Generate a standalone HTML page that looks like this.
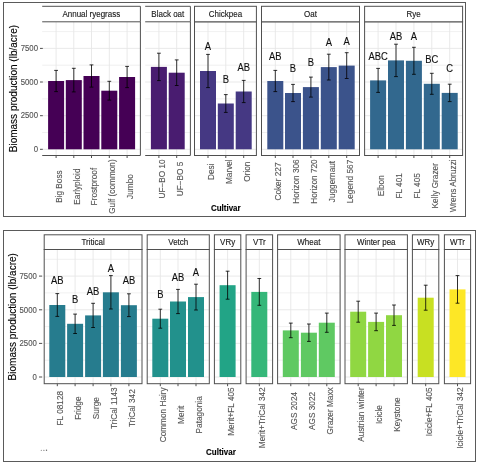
<!DOCTYPE html>
<html><head><meta charset="utf-8"><style>
html,body{margin:0;padding:0;background:#fff;}
svg{display:block;font-family:"Liberation Sans", sans-serif;}
text{stroke-width:0.12px;}
</style></head><body>
<svg width="480" height="468" viewBox="0 0 480 468">
<defs><filter id="bl" x="0" y="0" width="480" height="468" filterUnits="userSpaceOnUse"><feGaussianBlur stdDeviation="0.4"/></filter></defs>
<rect width="480" height="468" fill="#fff"/>
<g filter="url(#bl)">
<rect x="3.5" y="2.5" width="462.00" height="214.00" fill="none" stroke="#5a5a5a" stroke-width="1"/>
<line x1="42.2" x2="140.4" y1="132.5" y2="132.5" stroke="#e6e6e6" stroke-width="0.6"/>
<line x1="42.2" x2="140.4" y1="98.9" y2="98.9" stroke="#e6e6e6" stroke-width="0.6"/>
<line x1="42.2" x2="140.4" y1="65.2" y2="65.2" stroke="#e6e6e6" stroke-width="0.6"/>
<line x1="42.2" x2="140.4" y1="31.6" y2="31.6" stroke="#e6e6e6" stroke-width="0.6"/>
<line x1="42.2" x2="140.4" y1="149.3" y2="149.3" stroke="#e6e6e6" stroke-width="0.9"/>
<line x1="42.2" x2="140.4" y1="115.7" y2="115.7" stroke="#e6e6e6" stroke-width="0.9"/>
<line x1="42.2" x2="140.4" y1="82.0" y2="82.0" stroke="#e6e6e6" stroke-width="0.9"/>
<line x1="42.2" x2="140.4" y1="48.4" y2="48.4" stroke="#e6e6e6" stroke-width="0.9"/>
<line x1="56.1" x2="56.1" y1="21.8" y2="155.5" stroke="#e6e6e6" stroke-width="0.9"/>
<line x1="73.8" x2="73.8" y1="21.8" y2="155.5" stroke="#e6e6e6" stroke-width="0.9"/>
<line x1="91.5" x2="91.5" y1="21.8" y2="155.5" stroke="#e6e6e6" stroke-width="0.9"/>
<line x1="109.3" x2="109.3" y1="21.8" y2="155.5" stroke="#e6e6e6" stroke-width="0.9"/>
<line x1="127.1" x2="127.1" y1="21.8" y2="155.5" stroke="#e6e6e6" stroke-width="0.9"/>
<rect x="48.10" y="81.0" width="16.0" height="68.30" fill="#440154"/>
<rect x="65.80" y="80.1" width="16.0" height="69.20" fill="#440154"/>
<rect x="83.50" y="76.0" width="16.0" height="73.30" fill="#440154"/>
<rect x="101.30" y="90.7" width="16.0" height="58.60" fill="#440154"/>
<rect x="119.10" y="77.0" width="16.0" height="72.30" fill="#440154"/>
<path d="M54.20 70.4H58.00M56.1 70.4V91.6M54.20 91.6H58.00" stroke="#000" stroke-width="0.8" fill="none"/>
<path d="M71.90 68.3H75.70M73.8 68.3V91.9M71.90 91.9H75.70" stroke="#000" stroke-width="0.8" fill="none"/>
<path d="M89.60 64.9H93.40M91.5 64.9V87.1M89.60 87.1H93.40" stroke="#000" stroke-width="0.8" fill="none"/>
<path d="M107.40 81.3H111.20M109.3 81.3V100.1M107.40 100.1H111.20" stroke="#000" stroke-width="0.8" fill="none"/>
<path d="M125.20 66.4H129.00M127.1 66.4V87.6M125.20 87.6H129.00" stroke="#000" stroke-width="0.8" fill="none"/>
<path d="M42.2 155.5H140.4V21.8" fill="none" stroke="#505050" stroke-width="1.0"/>
<path d="M42.2 6.3H140.4V21.8H42.2" fill="#fff" stroke="#505050" stroke-width="1.0"/>
<text transform="translate(91.30,16.90) scale(1,1.15)" font-size="8" text-anchor="middle" fill="#1a1a1a" stroke="#1a1a1a" >Annual ryegrass</text>
<line x1="56.1" x2="56.1" y1="155.5" y2="158.0" stroke="#505050" stroke-width="1.0"/>
<text transform="translate(62.00,186.58) rotate(-90)" x="0" y="0" font-size="8.25" text-anchor="middle" fill="#555" stroke="#555">Big Boss</text>
<line x1="73.8" x2="73.8" y1="155.5" y2="158.0" stroke="#505050" stroke-width="1.0"/>
<text transform="translate(79.70,186.58) rotate(-90)" x="0" y="0" font-size="8.25" text-anchor="middle" fill="#555" stroke="#555">Earlyploid</text>
<line x1="91.5" x2="91.5" y1="155.5" y2="158.0" stroke="#505050" stroke-width="1.0"/>
<text transform="translate(97.40,186.58) rotate(-90)" x="0" y="0" font-size="8.25" text-anchor="middle" fill="#555" stroke="#555">Frostproof</text>
<line x1="109.3" x2="109.3" y1="155.5" y2="158.0" stroke="#505050" stroke-width="1.0"/>
<text transform="translate(115.20,186.58) rotate(-90)" x="0" y="0" font-size="8.25" text-anchor="middle" fill="#555" stroke="#555">Gulf (common)</text>
<line x1="127.1" x2="127.1" y1="155.5" y2="158.0" stroke="#505050" stroke-width="1.0"/>
<text transform="translate(133.00,186.58) rotate(-90)" x="0" y="0" font-size="8.25" text-anchor="middle" fill="#555" stroke="#555">Jumbo</text>
<line x1="145.2" x2="190.4" y1="132.5" y2="132.5" stroke="#e6e6e6" stroke-width="0.6"/>
<line x1="145.2" x2="190.4" y1="98.9" y2="98.9" stroke="#e6e6e6" stroke-width="0.6"/>
<line x1="145.2" x2="190.4" y1="65.2" y2="65.2" stroke="#e6e6e6" stroke-width="0.6"/>
<line x1="145.2" x2="190.4" y1="31.6" y2="31.6" stroke="#e6e6e6" stroke-width="0.6"/>
<line x1="145.2" x2="190.4" y1="149.3" y2="149.3" stroke="#e6e6e6" stroke-width="0.9"/>
<line x1="145.2" x2="190.4" y1="115.7" y2="115.7" stroke="#e6e6e6" stroke-width="0.9"/>
<line x1="145.2" x2="190.4" y1="82.0" y2="82.0" stroke="#e6e6e6" stroke-width="0.9"/>
<line x1="145.2" x2="190.4" y1="48.4" y2="48.4" stroke="#e6e6e6" stroke-width="0.9"/>
<line x1="158.9" x2="158.9" y1="21.8" y2="155.5" stroke="#e6e6e6" stroke-width="0.9"/>
<line x1="176.7" x2="176.7" y1="21.8" y2="155.5" stroke="#e6e6e6" stroke-width="0.9"/>
<rect x="150.90" y="66.9" width="16.0" height="82.40" fill="#481f70"/>
<rect x="168.70" y="72.7" width="16.0" height="76.60" fill="#481f70"/>
<path d="M157.00 53.2H160.80M158.9 53.2V80.6M157.00 80.6H160.80" stroke="#000" stroke-width="0.8" fill="none"/>
<path d="M174.80 59.9H178.60M176.7 59.9V85.5M174.80 85.5H178.60" stroke="#000" stroke-width="0.8" fill="none"/>
<path d="M145.2 155.5H190.4V21.8" fill="none" stroke="#505050" stroke-width="1.0"/>
<path d="M145.2 6.3H190.4V21.8H145.2" fill="#fff" stroke="#505050" stroke-width="1.0"/>
<text transform="translate(167.80,16.90) scale(1,1.15)" font-size="8" text-anchor="middle" fill="#1a1a1a" stroke="#1a1a1a" >Black oat</text>
<line x1="158.9" x2="158.9" y1="155.5" y2="158.0" stroke="#505050" stroke-width="1.0"/>
<text transform="translate(164.80,178.90) rotate(-90)" x="0" y="0" font-size="8.25" text-anchor="middle" fill="#555" stroke="#555">UF−BO 10</text>
<line x1="176.7" x2="176.7" y1="155.5" y2="158.0" stroke="#505050" stroke-width="1.0"/>
<text transform="translate(182.60,178.90) rotate(-90)" x="0" y="0" font-size="8.25" text-anchor="middle" fill="#555" stroke="#555">UF−BO 5</text>
<line x1="194.5" x2="256.4" y1="132.5" y2="132.5" stroke="#e6e6e6" stroke-width="0.6"/>
<line x1="194.5" x2="256.4" y1="98.9" y2="98.9" stroke="#e6e6e6" stroke-width="0.6"/>
<line x1="194.5" x2="256.4" y1="65.2" y2="65.2" stroke="#e6e6e6" stroke-width="0.6"/>
<line x1="194.5" x2="256.4" y1="31.6" y2="31.6" stroke="#e6e6e6" stroke-width="0.6"/>
<line x1="194.5" x2="256.4" y1="149.3" y2="149.3" stroke="#e6e6e6" stroke-width="0.9"/>
<line x1="194.5" x2="256.4" y1="115.7" y2="115.7" stroke="#e6e6e6" stroke-width="0.9"/>
<line x1="194.5" x2="256.4" y1="82.0" y2="82.0" stroke="#e6e6e6" stroke-width="0.9"/>
<line x1="194.5" x2="256.4" y1="48.4" y2="48.4" stroke="#e6e6e6" stroke-width="0.9"/>
<line x1="208.0" x2="208.0" y1="21.8" y2="155.5" stroke="#e6e6e6" stroke-width="0.9"/>
<line x1="225.8" x2="225.8" y1="21.8" y2="155.5" stroke="#e6e6e6" stroke-width="0.9"/>
<line x1="243.7" x2="243.7" y1="21.8" y2="155.5" stroke="#e6e6e6" stroke-width="0.9"/>
<rect x="200.00" y="71.0" width="16.0" height="78.30" fill="#443983"/>
<rect x="217.80" y="103.5" width="16.0" height="45.80" fill="#443983"/>
<rect x="235.70" y="91.5" width="16.0" height="57.80" fill="#443983"/>
<path d="M206.10 54.4H209.90M208.0 54.4V87.6M206.10 87.6H209.90" stroke="#000" stroke-width="0.8" fill="none"/>
<text transform="translate(208.00,50.20) scale(1,1.15)" font-size="9.4" text-anchor="middle" fill="#111" stroke="#111" >A</text>
<path d="M223.90 94.6H227.70M225.8 94.6V112.4M223.90 112.4H227.70" stroke="#000" stroke-width="0.8" fill="none"/>
<text transform="translate(225.80,82.70) scale(1,1.15)" font-size="9.4" text-anchor="middle" fill="#111" stroke="#111" >B</text>
<path d="M241.80 80.4H245.60M243.7 80.4V102.6M241.80 102.6H245.60" stroke="#000" stroke-width="0.8" fill="none"/>
<text transform="translate(243.70,70.70) scale(1,1.15)" font-size="9.4" text-anchor="middle" fill="#111" stroke="#111" >AB</text>
<rect x="194.5" y="21.8" width="61.90" height="133.70" fill="none" stroke="#505050" stroke-width="1.0"/>
<rect x="194.5" y="6.3" width="61.90" height="15.50" fill="#fff" stroke="#505050" stroke-width="1.0"/>
<text transform="translate(225.45,16.90) scale(1,1.15)" font-size="8" text-anchor="middle" fill="#1a1a1a" stroke="#1a1a1a" >Chickpea</text>
<line x1="208.0" x2="208.0" y1="155.5" y2="158.0" stroke="#505050" stroke-width="1.0"/>
<text transform="translate(213.90,171.68) rotate(-90)" x="0" y="0" font-size="8.25" text-anchor="middle" fill="#555" stroke="#555">Desi</text>
<line x1="225.8" x2="225.8" y1="155.5" y2="158.0" stroke="#505050" stroke-width="1.0"/>
<text transform="translate(231.70,171.68) rotate(-90)" x="0" y="0" font-size="8.25" text-anchor="middle" fill="#555" stroke="#555">Marvel</text>
<line x1="243.7" x2="243.7" y1="155.5" y2="158.0" stroke="#505050" stroke-width="1.0"/>
<text transform="translate(249.60,171.68) rotate(-90)" x="0" y="0" font-size="8.25" text-anchor="middle" fill="#555" stroke="#555">Orion</text>
<line x1="261.5" x2="359.5" y1="132.5" y2="132.5" stroke="#e6e6e6" stroke-width="0.6"/>
<line x1="261.5" x2="359.5" y1="98.9" y2="98.9" stroke="#e6e6e6" stroke-width="0.6"/>
<line x1="261.5" x2="359.5" y1="65.2" y2="65.2" stroke="#e6e6e6" stroke-width="0.6"/>
<line x1="261.5" x2="359.5" y1="31.6" y2="31.6" stroke="#e6e6e6" stroke-width="0.6"/>
<line x1="261.5" x2="359.5" y1="149.3" y2="149.3" stroke="#e6e6e6" stroke-width="0.9"/>
<line x1="261.5" x2="359.5" y1="115.7" y2="115.7" stroke="#e6e6e6" stroke-width="0.9"/>
<line x1="261.5" x2="359.5" y1="82.0" y2="82.0" stroke="#e6e6e6" stroke-width="0.9"/>
<line x1="261.5" x2="359.5" y1="48.4" y2="48.4" stroke="#e6e6e6" stroke-width="0.9"/>
<line x1="275.3" x2="275.3" y1="21.8" y2="155.5" stroke="#e6e6e6" stroke-width="0.9"/>
<line x1="293.0" x2="293.0" y1="21.8" y2="155.5" stroke="#e6e6e6" stroke-width="0.9"/>
<line x1="310.9" x2="310.9" y1="21.8" y2="155.5" stroke="#e6e6e6" stroke-width="0.9"/>
<line x1="328.8" x2="328.8" y1="21.8" y2="155.5" stroke="#e6e6e6" stroke-width="0.9"/>
<line x1="346.7" x2="346.7" y1="21.8" y2="155.5" stroke="#e6e6e6" stroke-width="0.9"/>
<rect x="267.30" y="81.0" width="16.0" height="68.30" fill="#3b528b"/>
<rect x="285.00" y="93.0" width="16.0" height="56.30" fill="#3b528b"/>
<rect x="302.90" y="87.1" width="16.0" height="62.20" fill="#3b528b"/>
<rect x="320.80" y="67.1" width="16.0" height="82.20" fill="#3b528b"/>
<rect x="338.70" y="65.6" width="16.0" height="83.70" fill="#3b528b"/>
<path d="M273.40 70.4H277.20M275.3 70.4V91.6M273.40 91.6H277.20" stroke="#000" stroke-width="0.8" fill="none"/>
<text transform="translate(275.30,60.20) scale(1,1.15)" font-size="9.4" text-anchor="middle" fill="#111" stroke="#111" >AB</text>
<path d="M291.10 84.4H294.90M293.0 84.4V101.6M291.10 101.6H294.90" stroke="#000" stroke-width="0.8" fill="none"/>
<text transform="translate(293.00,72.20) scale(1,1.15)" font-size="9.4" text-anchor="middle" fill="#111" stroke="#111" >B</text>
<path d="M309.00 77.1H312.80M310.9 77.1V97.1M309.00 97.1H312.80" stroke="#000" stroke-width="0.8" fill="none"/>
<text transform="translate(310.90,66.30) scale(1,1.15)" font-size="9.4" text-anchor="middle" fill="#111" stroke="#111" >B</text>
<path d="M326.90 54.2H330.70M328.8 54.2V80.0M326.90 80.0H330.70" stroke="#000" stroke-width="0.8" fill="none"/>
<text transform="translate(328.80,46.30) scale(1,1.15)" font-size="9.4" text-anchor="middle" fill="#111" stroke="#111" >A</text>
<path d="M344.80 52.7H348.60M346.7 52.7V78.5M344.80 78.5H348.60" stroke="#000" stroke-width="0.8" fill="none"/>
<text transform="translate(346.70,44.80) scale(1,1.15)" font-size="9.4" text-anchor="middle" fill="#111" stroke="#111" >A</text>
<rect x="261.5" y="21.8" width="98.00" height="133.70" fill="none" stroke="#505050" stroke-width="1.0"/>
<rect x="261.5" y="6.3" width="98.00" height="15.50" fill="#fff" stroke="#505050" stroke-width="1.0"/>
<text transform="translate(310.50,16.90) scale(1,1.15)" font-size="8" text-anchor="middle" fill="#1a1a1a" stroke="#1a1a1a" >Oat</text>
<line x1="275.3" x2="275.3" y1="155.5" y2="158.0" stroke="#505050" stroke-width="1.0"/>
<text transform="translate(281.20,181.54) rotate(-90)" x="0" y="0" font-size="8.25" text-anchor="middle" fill="#555" stroke="#555">Coker 227</text>
<line x1="293.0" x2="293.0" y1="155.5" y2="158.0" stroke="#505050" stroke-width="1.0"/>
<text transform="translate(298.90,181.54) rotate(-90)" x="0" y="0" font-size="8.25" text-anchor="middle" fill="#555" stroke="#555">Horizon 306</text>
<line x1="310.9" x2="310.9" y1="155.5" y2="158.0" stroke="#505050" stroke-width="1.0"/>
<text transform="translate(316.80,181.54) rotate(-90)" x="0" y="0" font-size="8.25" text-anchor="middle" fill="#555" stroke="#555">Horizon 720</text>
<line x1="328.8" x2="328.8" y1="155.5" y2="158.0" stroke="#505050" stroke-width="1.0"/>
<text transform="translate(334.70,181.54) rotate(-90)" x="0" y="0" font-size="8.25" text-anchor="middle" fill="#555" stroke="#555">Juggernaut</text>
<line x1="346.7" x2="346.7" y1="155.5" y2="158.0" stroke="#505050" stroke-width="1.0"/>
<text transform="translate(352.60,181.54) rotate(-90)" x="0" y="0" font-size="8.25" text-anchor="middle" fill="#555" stroke="#555">Legend 567</text>
<line x1="364.6" x2="462.6" y1="132.5" y2="132.5" stroke="#e6e6e6" stroke-width="0.6"/>
<line x1="364.6" x2="462.6" y1="98.9" y2="98.9" stroke="#e6e6e6" stroke-width="0.6"/>
<line x1="364.6" x2="462.6" y1="65.2" y2="65.2" stroke="#e6e6e6" stroke-width="0.6"/>
<line x1="364.6" x2="462.6" y1="31.6" y2="31.6" stroke="#e6e6e6" stroke-width="0.6"/>
<line x1="364.6" x2="462.6" y1="149.3" y2="149.3" stroke="#e6e6e6" stroke-width="0.9"/>
<line x1="364.6" x2="462.6" y1="115.7" y2="115.7" stroke="#e6e6e6" stroke-width="0.9"/>
<line x1="364.6" x2="462.6" y1="82.0" y2="82.0" stroke="#e6e6e6" stroke-width="0.9"/>
<line x1="364.6" x2="462.6" y1="48.4" y2="48.4" stroke="#e6e6e6" stroke-width="0.9"/>
<line x1="378.1" x2="378.1" y1="21.8" y2="155.5" stroke="#e6e6e6" stroke-width="0.9"/>
<line x1="396.0" x2="396.0" y1="21.8" y2="155.5" stroke="#e6e6e6" stroke-width="0.9"/>
<line x1="413.9" x2="413.9" y1="21.8" y2="155.5" stroke="#e6e6e6" stroke-width="0.9"/>
<line x1="431.8" x2="431.8" y1="21.8" y2="155.5" stroke="#e6e6e6" stroke-width="0.9"/>
<line x1="449.7" x2="449.7" y1="21.8" y2="155.5" stroke="#e6e6e6" stroke-width="0.9"/>
<rect x="370.10" y="80.4" width="16.0" height="68.90" fill="#31688e"/>
<rect x="388.00" y="60.4" width="16.0" height="88.90" fill="#31688e"/>
<rect x="405.90" y="60.8" width="16.0" height="88.50" fill="#31688e"/>
<rect x="423.80" y="83.8" width="16.0" height="65.50" fill="#31688e"/>
<rect x="441.70" y="92.9" width="16.0" height="56.40" fill="#31688e"/>
<path d="M376.20 68.4H380.00M378.1 68.4V92.4M376.20 92.4H380.00" stroke="#000" stroke-width="0.8" fill="none"/>
<text transform="translate(378.10,59.60) scale(1,1.15)" font-size="9.4" text-anchor="middle" fill="#111" stroke="#111" >ABC</text>
<path d="M394.10 44.2H397.90M396.0 44.2V76.6M394.10 76.6H397.90" stroke="#000" stroke-width="0.8" fill="none"/>
<text transform="translate(396.00,39.60) scale(1,1.15)" font-size="9.4" text-anchor="middle" fill="#111" stroke="#111" >AB</text>
<path d="M412.00 47.3H415.80M413.9 47.3V74.3M412.00 74.3H415.80" stroke="#000" stroke-width="0.8" fill="none"/>
<text transform="translate(413.90,40.00) scale(1,1.15)" font-size="9.4" text-anchor="middle" fill="#111" stroke="#111" >A</text>
<path d="M429.90 73.3H433.70M431.8 73.3V94.3M429.90 94.3H433.70" stroke="#000" stroke-width="0.8" fill="none"/>
<text transform="translate(431.80,63.00) scale(1,1.15)" font-size="9.4" text-anchor="middle" fill="#111" stroke="#111" >BC</text>
<path d="M447.80 84.2H451.60M449.7 84.2V101.6M447.80 101.6H451.60" stroke="#000" stroke-width="0.8" fill="none"/>
<text transform="translate(449.70,72.10) scale(1,1.15)" font-size="9.4" text-anchor="middle" fill="#111" stroke="#111" >C</text>
<rect x="364.6" y="21.8" width="98.00" height="133.70" fill="none" stroke="#505050" stroke-width="1.0"/>
<rect x="364.6" y="6.3" width="98.00" height="15.50" fill="#fff" stroke="#505050" stroke-width="1.0"/>
<text transform="translate(413.60,16.90) scale(1,1.15)" font-size="8" text-anchor="middle" fill="#1a1a1a" stroke="#1a1a1a" >Rye</text>
<line x1="378.1" x2="378.1" y1="155.5" y2="158.0" stroke="#505050" stroke-width="1.0"/>
<text transform="translate(384.00,185.82) rotate(-90)" x="0" y="0" font-size="8.25" text-anchor="middle" fill="#555" stroke="#555">Elbon</text>
<line x1="396.0" x2="396.0" y1="155.5" y2="158.0" stroke="#505050" stroke-width="1.0"/>
<text transform="translate(401.90,185.82) rotate(-90)" x="0" y="0" font-size="8.25" text-anchor="middle" fill="#555" stroke="#555">FL 401</text>
<line x1="413.9" x2="413.9" y1="155.5" y2="158.0" stroke="#505050" stroke-width="1.0"/>
<text transform="translate(419.80,185.82) rotate(-90)" x="0" y="0" font-size="8.25" text-anchor="middle" fill="#555" stroke="#555">FL 405</text>
<line x1="431.8" x2="431.8" y1="155.5" y2="158.0" stroke="#505050" stroke-width="1.0"/>
<text transform="translate(437.70,185.82) rotate(-90)" x="0" y="0" font-size="8.25" text-anchor="middle" fill="#555" stroke="#555">Kelly Grazer</text>
<line x1="449.7" x2="449.7" y1="155.5" y2="158.0" stroke="#505050" stroke-width="1.0"/>
<text transform="translate(455.60,185.82) rotate(-90)" x="0" y="0" font-size="8.25" text-anchor="middle" fill="#555" stroke="#555">Wrens Abruzzi</text>
<line x1="40.0" x2="42.8" y1="149.3" y2="149.3" stroke="#505050" stroke-width="1.0"/>
<text transform="translate(38.00,152.00) scale(1,1.08)" font-size="7.8" text-anchor="end" fill="#555" stroke="#555" >0</text>
<line x1="40.0" x2="42.8" y1="115.7" y2="115.7" stroke="#505050" stroke-width="1.0"/>
<text transform="translate(38.00,118.40) scale(1,1.08)" font-size="7.8" text-anchor="end" fill="#555" stroke="#555" >2500</text>
<line x1="40.0" x2="42.8" y1="82.0" y2="82.0" stroke="#505050" stroke-width="1.0"/>
<text transform="translate(38.00,84.70) scale(1,1.08)" font-size="7.8" text-anchor="end" fill="#555" stroke="#555" >5000</text>
<line x1="40.0" x2="42.8" y1="48.4" y2="48.4" stroke="#505050" stroke-width="1.0"/>
<text transform="translate(38.00,51.10) scale(1,1.08)" font-size="7.8" text-anchor="end" fill="#555" stroke="#555" >7500</text>
<text transform="translate(16.50,88.6) rotate(-90)" font-size="10" text-anchor="middle" fill="#000" stroke="#000">Biomass production (lb/acre)</text>
<text transform="translate(225.80,211.00) scale(1,1.15)" font-size="8" text-anchor="middle" fill="#000" stroke="#000" font-weight="bold">Cultivar</text>
<rect x="3.5" y="230.5" width="472.00" height="231.00" fill="none" stroke="#5a5a5a" stroke-width="1"/>
<line x1="44.2" x2="142.0" y1="360.2" y2="360.2" stroke="#e6e6e6" stroke-width="0.6"/>
<line x1="44.2" x2="142.0" y1="326.6" y2="326.6" stroke="#e6e6e6" stroke-width="0.6"/>
<line x1="44.2" x2="142.0" y1="292.9" y2="292.9" stroke="#e6e6e6" stroke-width="0.6"/>
<line x1="44.2" x2="142.0" y1="259.3" y2="259.3" stroke="#e6e6e6" stroke-width="0.6"/>
<line x1="44.2" x2="142.0" y1="377.0" y2="377.0" stroke="#e6e6e6" stroke-width="0.9"/>
<line x1="44.2" x2="142.0" y1="343.4" y2="343.4" stroke="#e6e6e6" stroke-width="0.9"/>
<line x1="44.2" x2="142.0" y1="309.8" y2="309.8" stroke="#e6e6e6" stroke-width="0.9"/>
<line x1="44.2" x2="142.0" y1="276.1" y2="276.1" stroke="#e6e6e6" stroke-width="0.9"/>
<line x1="57.3" x2="57.3" y1="249.5" y2="383.7" stroke="#e6e6e6" stroke-width="0.9"/>
<line x1="75.1" x2="75.1" y1="249.5" y2="383.7" stroke="#e6e6e6" stroke-width="0.9"/>
<line x1="93.1" x2="93.1" y1="249.5" y2="383.7" stroke="#e6e6e6" stroke-width="0.9"/>
<line x1="110.9" x2="110.9" y1="249.5" y2="383.7" stroke="#e6e6e6" stroke-width="0.9"/>
<line x1="128.9" x2="128.9" y1="249.5" y2="383.7" stroke="#e6e6e6" stroke-width="0.9"/>
<rect x="49.30" y="305.0" width="16.0" height="72.00" fill="#287c8e"/>
<rect x="67.10" y="323.8" width="16.0" height="53.20" fill="#287c8e"/>
<rect x="85.10" y="315.4" width="16.0" height="61.60" fill="#287c8e"/>
<rect x="102.90" y="292.3" width="16.0" height="84.70" fill="#287c8e"/>
<rect x="120.90" y="305.2" width="16.0" height="71.80" fill="#287c8e"/>
<path d="M55.40 293.6H59.20M57.3 293.6V316.4M55.40 316.4H59.20" stroke="#000" stroke-width="0.8" fill="none"/>
<text transform="translate(57.30,284.20) scale(1,1.15)" font-size="9.4" text-anchor="middle" fill="#111" stroke="#111" >AB</text>
<path d="M73.20 314.1H77.00M75.1 314.1V333.5M73.20 333.5H77.00" stroke="#000" stroke-width="0.8" fill="none"/>
<text transform="translate(75.10,303.00) scale(1,1.15)" font-size="9.4" text-anchor="middle" fill="#111" stroke="#111" >B</text>
<path d="M91.20 303.3H95.00M93.1 303.3V327.5M91.20 327.5H95.00" stroke="#000" stroke-width="0.8" fill="none"/>
<text transform="translate(93.10,294.60) scale(1,1.15)" font-size="9.4" text-anchor="middle" fill="#111" stroke="#111" >AB</text>
<path d="M109.00 275.6H112.80M110.9 275.6V309.0M109.00 309.0H112.80" stroke="#000" stroke-width="0.8" fill="none"/>
<text transform="translate(110.90,271.50) scale(1,1.15)" font-size="9.4" text-anchor="middle" fill="#111" stroke="#111" >A</text>
<path d="M127.00 293.8H130.80M128.9 293.8V316.6M127.00 316.6H130.80" stroke="#000" stroke-width="0.8" fill="none"/>
<text transform="translate(128.90,284.40) scale(1,1.15)" font-size="9.4" text-anchor="middle" fill="#111" stroke="#111" >AB</text>
<rect x="44.2" y="249.5" width="97.80" height="134.20" fill="none" stroke="#505050" stroke-width="1.0"/>
<rect x="44.2" y="234.8" width="97.80" height="14.70" fill="#fff" stroke="#505050" stroke-width="1.0"/>
<text transform="translate(93.10,245.40) scale(1,1.15)" font-size="8" text-anchor="middle" fill="#1a1a1a" stroke="#1a1a1a" >Tritical</text>
<line x1="57.3" x2="57.3" y1="383.7" y2="386.2" stroke="#505050" stroke-width="1.0"/>
<text transform="translate(63.20,408.16) rotate(-90)" x="0" y="0" font-size="8.25" text-anchor="middle" fill="#555" stroke="#555">FL 08128</text>
<line x1="75.1" x2="75.1" y1="383.7" y2="386.2" stroke="#505050" stroke-width="1.0"/>
<text transform="translate(81.00,408.16) rotate(-90)" x="0" y="0" font-size="8.25" text-anchor="middle" fill="#555" stroke="#555">Fridge</text>
<line x1="93.1" x2="93.1" y1="383.7" y2="386.2" stroke="#505050" stroke-width="1.0"/>
<text transform="translate(99.00,408.16) rotate(-90)" x="0" y="0" font-size="8.25" text-anchor="middle" fill="#555" stroke="#555">Surge</text>
<line x1="110.9" x2="110.9" y1="383.7" y2="386.2" stroke="#505050" stroke-width="1.0"/>
<text transform="translate(116.80,408.16) rotate(-90)" x="0" y="0" font-size="8.25" text-anchor="middle" fill="#555" stroke="#555">TriCal 1143</text>
<line x1="128.9" x2="128.9" y1="383.7" y2="386.2" stroke="#505050" stroke-width="1.0"/>
<text transform="translate(134.80,408.16) rotate(-90)" x="0" y="0" font-size="8.25" text-anchor="middle" fill="#555" stroke="#555">TriCal 342</text>
<line x1="147.2" x2="209.3" y1="360.2" y2="360.2" stroke="#e6e6e6" stroke-width="0.6"/>
<line x1="147.2" x2="209.3" y1="326.6" y2="326.6" stroke="#e6e6e6" stroke-width="0.6"/>
<line x1="147.2" x2="209.3" y1="292.9" y2="292.9" stroke="#e6e6e6" stroke-width="0.6"/>
<line x1="147.2" x2="209.3" y1="259.3" y2="259.3" stroke="#e6e6e6" stroke-width="0.6"/>
<line x1="147.2" x2="209.3" y1="377.0" y2="377.0" stroke="#e6e6e6" stroke-width="0.9"/>
<line x1="147.2" x2="209.3" y1="343.4" y2="343.4" stroke="#e6e6e6" stroke-width="0.9"/>
<line x1="147.2" x2="209.3" y1="309.8" y2="309.8" stroke="#e6e6e6" stroke-width="0.9"/>
<line x1="147.2" x2="209.3" y1="276.1" y2="276.1" stroke="#e6e6e6" stroke-width="0.9"/>
<line x1="160.3" x2="160.3" y1="249.5" y2="383.7" stroke="#e6e6e6" stroke-width="0.9"/>
<line x1="178.0" x2="178.0" y1="249.5" y2="383.7" stroke="#e6e6e6" stroke-width="0.9"/>
<line x1="196.0" x2="196.0" y1="249.5" y2="383.7" stroke="#e6e6e6" stroke-width="0.9"/>
<rect x="152.30" y="318.7" width="16.0" height="58.30" fill="#21918c"/>
<rect x="170.00" y="301.5" width="16.0" height="75.50" fill="#21918c"/>
<rect x="188.00" y="297.1" width="16.0" height="79.90" fill="#21918c"/>
<path d="M158.40 309.2H162.20M160.3 309.2V328.2M158.40 328.2H162.20" stroke="#000" stroke-width="0.8" fill="none"/>
<text transform="translate(160.30,297.90) scale(1,1.15)" font-size="9.4" text-anchor="middle" fill="#111" stroke="#111" >B</text>
<path d="M176.10 289.4H179.90M178.0 289.4V313.6M176.10 313.6H179.90" stroke="#000" stroke-width="0.8" fill="none"/>
<text transform="translate(178.00,280.70) scale(1,1.15)" font-size="9.4" text-anchor="middle" fill="#111" stroke="#111" >AB</text>
<path d="M194.10 284.2H197.90M196.0 284.2V310.0M194.10 310.0H197.90" stroke="#000" stroke-width="0.8" fill="none"/>
<text transform="translate(196.00,276.30) scale(1,1.15)" font-size="9.4" text-anchor="middle" fill="#111" stroke="#111" >A</text>
<rect x="147.2" y="249.5" width="62.10" height="134.20" fill="none" stroke="#505050" stroke-width="1.0"/>
<rect x="147.2" y="234.8" width="62.10" height="14.70" fill="#fff" stroke="#505050" stroke-width="1.0"/>
<text transform="translate(178.25,245.40) scale(1,1.15)" font-size="8" text-anchor="middle" fill="#1a1a1a" stroke="#1a1a1a" >Vetch</text>
<line x1="160.3" x2="160.3" y1="383.7" y2="386.2" stroke="#505050" stroke-width="1.0"/>
<text transform="translate(166.20,414.81) rotate(-90)" x="0" y="0" font-size="8.25" text-anchor="middle" fill="#555" stroke="#555">Common Hairy</text>
<line x1="178.0" x2="178.0" y1="383.7" y2="386.2" stroke="#505050" stroke-width="1.0"/>
<text transform="translate(183.90,414.81) rotate(-90)" x="0" y="0" font-size="8.25" text-anchor="middle" fill="#555" stroke="#555">Merit</text>
<line x1="196.0" x2="196.0" y1="383.7" y2="386.2" stroke="#505050" stroke-width="1.0"/>
<text transform="translate(201.90,414.81) rotate(-90)" x="0" y="0" font-size="8.25" text-anchor="middle" fill="#555" stroke="#555">Patagonia</text>
<line x1="214.4" x2="240.8" y1="360.2" y2="360.2" stroke="#e6e6e6" stroke-width="0.6"/>
<line x1="214.4" x2="240.8" y1="326.6" y2="326.6" stroke="#e6e6e6" stroke-width="0.6"/>
<line x1="214.4" x2="240.8" y1="292.9" y2="292.9" stroke="#e6e6e6" stroke-width="0.6"/>
<line x1="214.4" x2="240.8" y1="259.3" y2="259.3" stroke="#e6e6e6" stroke-width="0.6"/>
<line x1="214.4" x2="240.8" y1="377.0" y2="377.0" stroke="#e6e6e6" stroke-width="0.9"/>
<line x1="214.4" x2="240.8" y1="343.4" y2="343.4" stroke="#e6e6e6" stroke-width="0.9"/>
<line x1="214.4" x2="240.8" y1="309.8" y2="309.8" stroke="#e6e6e6" stroke-width="0.9"/>
<line x1="214.4" x2="240.8" y1="276.1" y2="276.1" stroke="#e6e6e6" stroke-width="0.9"/>
<line x1="227.6" x2="227.6" y1="249.5" y2="383.7" stroke="#e6e6e6" stroke-width="0.9"/>
<rect x="219.60" y="285.2" width="16.0" height="91.80" fill="#20a486"/>
<path d="M225.70 271.2H229.50M227.6 271.2V299.2M225.70 299.2H229.50" stroke="#000" stroke-width="0.8" fill="none"/>
<rect x="214.4" y="249.5" width="26.40" height="134.20" fill="none" stroke="#505050" stroke-width="1.0"/>
<rect x="214.4" y="234.8" width="26.40" height="14.70" fill="#fff" stroke="#505050" stroke-width="1.0"/>
<text transform="translate(227.60,245.40) scale(1,1.15)" font-size="8" text-anchor="middle" fill="#1a1a1a" stroke="#1a1a1a" >VRy</text>
<line x1="227.6" x2="227.6" y1="383.7" y2="386.2" stroke="#505050" stroke-width="1.0"/>
<text transform="translate(233.50,411.56) rotate(-90)" x="0" y="0" font-size="8.25" text-anchor="middle" fill="#555" stroke="#555">Merit+FL 405</text>
<line x1="246.1" x2="272.6" y1="360.2" y2="360.2" stroke="#e6e6e6" stroke-width="0.6"/>
<line x1="246.1" x2="272.6" y1="326.6" y2="326.6" stroke="#e6e6e6" stroke-width="0.6"/>
<line x1="246.1" x2="272.6" y1="292.9" y2="292.9" stroke="#e6e6e6" stroke-width="0.6"/>
<line x1="246.1" x2="272.6" y1="259.3" y2="259.3" stroke="#e6e6e6" stroke-width="0.6"/>
<line x1="246.1" x2="272.6" y1="377.0" y2="377.0" stroke="#e6e6e6" stroke-width="0.9"/>
<line x1="246.1" x2="272.6" y1="343.4" y2="343.4" stroke="#e6e6e6" stroke-width="0.9"/>
<line x1="246.1" x2="272.6" y1="309.8" y2="309.8" stroke="#e6e6e6" stroke-width="0.9"/>
<line x1="246.1" x2="272.6" y1="276.1" y2="276.1" stroke="#e6e6e6" stroke-width="0.9"/>
<line x1="259.3" x2="259.3" y1="249.5" y2="383.7" stroke="#e6e6e6" stroke-width="0.9"/>
<rect x="251.30" y="291.9" width="16.0" height="85.10" fill="#35b779"/>
<path d="M257.40 278.5H261.20M259.3 278.5V305.3M257.40 305.3H261.20" stroke="#000" stroke-width="0.8" fill="none"/>
<rect x="246.1" y="249.5" width="26.50" height="134.20" fill="none" stroke="#505050" stroke-width="1.0"/>
<rect x="246.1" y="234.8" width="26.50" height="14.70" fill="#fff" stroke="#505050" stroke-width="1.0"/>
<text transform="translate(259.35,245.40) scale(1,1.15)" font-size="8" text-anchor="middle" fill="#1a1a1a" stroke="#1a1a1a" >VTr</text>
<line x1="259.3" x2="259.3" y1="383.7" y2="386.2" stroke="#505050" stroke-width="1.0"/>
<text transform="translate(265.20,417.75) rotate(-90)" x="0" y="0" font-size="8.25" text-anchor="middle" fill="#555" stroke="#555">Merit+TriCal 342</text>
<line x1="277.6" x2="340.1" y1="360.2" y2="360.2" stroke="#e6e6e6" stroke-width="0.6"/>
<line x1="277.6" x2="340.1" y1="326.6" y2="326.6" stroke="#e6e6e6" stroke-width="0.6"/>
<line x1="277.6" x2="340.1" y1="292.9" y2="292.9" stroke="#e6e6e6" stroke-width="0.6"/>
<line x1="277.6" x2="340.1" y1="259.3" y2="259.3" stroke="#e6e6e6" stroke-width="0.6"/>
<line x1="277.6" x2="340.1" y1="377.0" y2="377.0" stroke="#e6e6e6" stroke-width="0.9"/>
<line x1="277.6" x2="340.1" y1="343.4" y2="343.4" stroke="#e6e6e6" stroke-width="0.9"/>
<line x1="277.6" x2="340.1" y1="309.8" y2="309.8" stroke="#e6e6e6" stroke-width="0.9"/>
<line x1="277.6" x2="340.1" y1="276.1" y2="276.1" stroke="#e6e6e6" stroke-width="0.9"/>
<line x1="290.8" x2="290.8" y1="249.5" y2="383.7" stroke="#e6e6e6" stroke-width="0.9"/>
<line x1="308.9" x2="308.9" y1="249.5" y2="383.7" stroke="#e6e6e6" stroke-width="0.9"/>
<line x1="326.8" x2="326.8" y1="249.5" y2="383.7" stroke="#e6e6e6" stroke-width="0.9"/>
<rect x="282.80" y="330.4" width="16.0" height="46.60" fill="#5ec962"/>
<rect x="300.90" y="332.7" width="16.0" height="44.30" fill="#5ec962"/>
<rect x="318.80" y="322.7" width="16.0" height="54.30" fill="#5ec962"/>
<path d="M288.90 323.1H292.70M290.8 323.1V337.7M288.90 337.7H292.70" stroke="#000" stroke-width="0.8" fill="none"/>
<path d="M307.00 324.0H310.80M308.9 324.0V341.4M307.00 341.4H310.80" stroke="#000" stroke-width="0.8" fill="none"/>
<path d="M324.90 313.1H328.70M326.8 313.1V332.3M324.90 332.3H328.70" stroke="#000" stroke-width="0.8" fill="none"/>
<rect x="277.6" y="249.5" width="62.50" height="134.20" fill="none" stroke="#505050" stroke-width="1.0"/>
<rect x="277.6" y="234.8" width="62.50" height="14.70" fill="#fff" stroke="#505050" stroke-width="1.0"/>
<text transform="translate(308.85,245.40) scale(1,1.15)" font-size="8" text-anchor="middle" fill="#1a1a1a" stroke="#1a1a1a" >Wheat</text>
<line x1="290.8" x2="290.8" y1="383.7" y2="386.2" stroke="#505050" stroke-width="1.0"/>
<text transform="translate(296.70,410.91) rotate(-90)" x="0" y="0" font-size="8.25" text-anchor="middle" fill="#555" stroke="#555">AGS 2024</text>
<line x1="308.9" x2="308.9" y1="383.7" y2="386.2" stroke="#505050" stroke-width="1.0"/>
<text transform="translate(314.80,410.91) rotate(-90)" x="0" y="0" font-size="8.25" text-anchor="middle" fill="#555" stroke="#555">AGS 3022</text>
<line x1="326.8" x2="326.8" y1="383.7" y2="386.2" stroke="#505050" stroke-width="1.0"/>
<text transform="translate(332.70,410.91) rotate(-90)" x="0" y="0" font-size="8.25" text-anchor="middle" fill="#555" stroke="#555">Grazer Maxx</text>
<line x1="345.0" x2="407.4" y1="360.2" y2="360.2" stroke="#e6e6e6" stroke-width="0.6"/>
<line x1="345.0" x2="407.4" y1="326.6" y2="326.6" stroke="#e6e6e6" stroke-width="0.6"/>
<line x1="345.0" x2="407.4" y1="292.9" y2="292.9" stroke="#e6e6e6" stroke-width="0.6"/>
<line x1="345.0" x2="407.4" y1="259.3" y2="259.3" stroke="#e6e6e6" stroke-width="0.6"/>
<line x1="345.0" x2="407.4" y1="377.0" y2="377.0" stroke="#e6e6e6" stroke-width="0.9"/>
<line x1="345.0" x2="407.4" y1="343.4" y2="343.4" stroke="#e6e6e6" stroke-width="0.9"/>
<line x1="345.0" x2="407.4" y1="309.8" y2="309.8" stroke="#e6e6e6" stroke-width="0.9"/>
<line x1="345.0" x2="407.4" y1="276.1" y2="276.1" stroke="#e6e6e6" stroke-width="0.9"/>
<line x1="358.2" x2="358.2" y1="249.5" y2="383.7" stroke="#e6e6e6" stroke-width="0.9"/>
<line x1="376.1" x2="376.1" y1="249.5" y2="383.7" stroke="#e6e6e6" stroke-width="0.9"/>
<line x1="394.0" x2="394.0" y1="249.5" y2="383.7" stroke="#e6e6e6" stroke-width="0.9"/>
<rect x="350.20" y="311.7" width="16.0" height="65.30" fill="#90d743"/>
<rect x="368.10" y="321.9" width="16.0" height="55.10" fill="#90d743"/>
<rect x="386.00" y="315.2" width="16.0" height="61.80" fill="#90d743"/>
<path d="M356.30 301.2H360.10M358.2 301.2V322.2M356.30 322.2H360.10" stroke="#000" stroke-width="0.8" fill="none"/>
<path d="M374.20 313.1H378.00M376.1 313.1V330.7M374.20 330.7H378.00" stroke="#000" stroke-width="0.8" fill="none"/>
<path d="M392.10 305.0H395.90M394.0 305.0V325.4M392.10 325.4H395.90" stroke="#000" stroke-width="0.8" fill="none"/>
<rect x="345.0" y="249.5" width="62.40" height="134.20" fill="none" stroke="#505050" stroke-width="1.0"/>
<rect x="345.0" y="234.8" width="62.40" height="14.70" fill="#fff" stroke="#505050" stroke-width="1.0"/>
<text transform="translate(376.20,245.40) scale(1,1.15)" font-size="8" text-anchor="middle" fill="#1a1a1a" stroke="#1a1a1a" >Winter pea</text>
<line x1="358.2" x2="358.2" y1="383.7" y2="386.2" stroke="#505050" stroke-width="1.0"/>
<text transform="translate(364.10,414.58) rotate(-90)" x="0" y="0" font-size="8.25" text-anchor="middle" fill="#555" stroke="#555">Austrian winter</text>
<line x1="376.1" x2="376.1" y1="383.7" y2="386.2" stroke="#505050" stroke-width="1.0"/>
<text transform="translate(382.00,414.58) rotate(-90)" x="0" y="0" font-size="8.25" text-anchor="middle" fill="#555" stroke="#555">Icicle</text>
<line x1="394.0" x2="394.0" y1="383.7" y2="386.2" stroke="#505050" stroke-width="1.0"/>
<text transform="translate(399.90,414.58) rotate(-90)" x="0" y="0" font-size="8.25" text-anchor="middle" fill="#555" stroke="#555">Keystone</text>
<line x1="412.4" x2="438.8" y1="360.2" y2="360.2" stroke="#e6e6e6" stroke-width="0.6"/>
<line x1="412.4" x2="438.8" y1="326.6" y2="326.6" stroke="#e6e6e6" stroke-width="0.6"/>
<line x1="412.4" x2="438.8" y1="292.9" y2="292.9" stroke="#e6e6e6" stroke-width="0.6"/>
<line x1="412.4" x2="438.8" y1="259.3" y2="259.3" stroke="#e6e6e6" stroke-width="0.6"/>
<line x1="412.4" x2="438.8" y1="377.0" y2="377.0" stroke="#e6e6e6" stroke-width="0.9"/>
<line x1="412.4" x2="438.8" y1="343.4" y2="343.4" stroke="#e6e6e6" stroke-width="0.9"/>
<line x1="412.4" x2="438.8" y1="309.8" y2="309.8" stroke="#e6e6e6" stroke-width="0.9"/>
<line x1="412.4" x2="438.8" y1="276.1" y2="276.1" stroke="#e6e6e6" stroke-width="0.9"/>
<line x1="425.7" x2="425.7" y1="249.5" y2="383.7" stroke="#e6e6e6" stroke-width="0.9"/>
<rect x="417.70" y="297.7" width="16.0" height="79.30" fill="#c8e020"/>
<path d="M423.80 285.2H427.60M425.7 285.2V310.2M423.80 310.2H427.60" stroke="#000" stroke-width="0.8" fill="none"/>
<rect x="412.4" y="249.5" width="26.40" height="134.20" fill="none" stroke="#505050" stroke-width="1.0"/>
<rect x="412.4" y="234.8" width="26.40" height="14.70" fill="#fff" stroke="#505050" stroke-width="1.0"/>
<text transform="translate(425.60,245.40) scale(1,1.15)" font-size="8" text-anchor="middle" fill="#1a1a1a" stroke="#1a1a1a" >WRy</text>
<line x1="425.7" x2="425.7" y1="383.7" y2="386.2" stroke="#505050" stroke-width="1.0"/>
<text transform="translate(431.60,411.80) rotate(-90)" x="0" y="0" font-size="8.25" text-anchor="middle" fill="#555" stroke="#555">Icicle+FL 405</text>
<line x1="444.4" x2="470.6" y1="360.2" y2="360.2" stroke="#e6e6e6" stroke-width="0.6"/>
<line x1="444.4" x2="470.6" y1="326.6" y2="326.6" stroke="#e6e6e6" stroke-width="0.6"/>
<line x1="444.4" x2="470.6" y1="292.9" y2="292.9" stroke="#e6e6e6" stroke-width="0.6"/>
<line x1="444.4" x2="470.6" y1="259.3" y2="259.3" stroke="#e6e6e6" stroke-width="0.6"/>
<line x1="444.4" x2="470.6" y1="377.0" y2="377.0" stroke="#e6e6e6" stroke-width="0.9"/>
<line x1="444.4" x2="470.6" y1="343.4" y2="343.4" stroke="#e6e6e6" stroke-width="0.9"/>
<line x1="444.4" x2="470.6" y1="309.8" y2="309.8" stroke="#e6e6e6" stroke-width="0.9"/>
<line x1="444.4" x2="470.6" y1="276.1" y2="276.1" stroke="#e6e6e6" stroke-width="0.9"/>
<line x1="457.5" x2="457.5" y1="249.5" y2="383.7" stroke="#e6e6e6" stroke-width="0.9"/>
<rect x="449.50" y="289.4" width="16.0" height="87.60" fill="#fde725"/>
<path d="M455.60 275.6H459.40M457.5 275.6V303.2M455.60 303.2H459.40" stroke="#000" stroke-width="0.8" fill="none"/>
<rect x="444.4" y="249.5" width="26.20" height="134.20" fill="none" stroke="#505050" stroke-width="1.0"/>
<rect x="444.4" y="234.8" width="26.20" height="14.70" fill="#fff" stroke="#505050" stroke-width="1.0"/>
<text transform="translate(457.50,245.40) scale(1,1.15)" font-size="8" text-anchor="middle" fill="#1a1a1a" stroke="#1a1a1a" >WTr</text>
<line x1="457.5" x2="457.5" y1="383.7" y2="386.2" stroke="#505050" stroke-width="1.0"/>
<text transform="translate(463.40,417.98) rotate(-90)" x="0" y="0" font-size="8.25" text-anchor="middle" fill="#555" stroke="#555">Icicle+TriCal 342</text>
<line x1="39.0" x2="42.2" y1="377.0" y2="377.0" stroke="#505050" stroke-width="1.0"/>
<text transform="translate(36.80,379.70) scale(1,1.08)" font-size="7.8" text-anchor="end" fill="#555" stroke="#555" >0</text>
<line x1="39.0" x2="42.2" y1="343.4" y2="343.4" stroke="#505050" stroke-width="1.0"/>
<text transform="translate(36.80,346.10) scale(1,1.08)" font-size="7.8" text-anchor="end" fill="#555" stroke="#555" >2500</text>
<line x1="39.0" x2="42.2" y1="309.8" y2="309.8" stroke="#505050" stroke-width="1.0"/>
<text transform="translate(36.80,312.50) scale(1,1.08)" font-size="7.8" text-anchor="end" fill="#555" stroke="#555" >5000</text>
<line x1="39.0" x2="42.2" y1="276.1" y2="276.1" stroke="#505050" stroke-width="1.0"/>
<text transform="translate(36.80,278.80) scale(1,1.08)" font-size="7.8" text-anchor="end" fill="#555" stroke="#555" >7500</text>
<text transform="translate(16.00,316.75) rotate(-90)" font-size="10" text-anchor="middle" fill="#000" stroke="#000">Biomass production (lb/acre)</text>
<text transform="translate(220.90,455.00) scale(1,1.15)" font-size="8" text-anchor="middle" fill="#000" stroke="#000" font-weight="bold">Cultivar</text>
<circle cx="41.3" cy="450.3" r="0.6" fill="#888"/><circle cx="43.9" cy="450.3" r="0.65" fill="#777"/><circle cx="46.5" cy="450.3" r="0.7" fill="#666"/>
</g>
</svg>
</body></html>
